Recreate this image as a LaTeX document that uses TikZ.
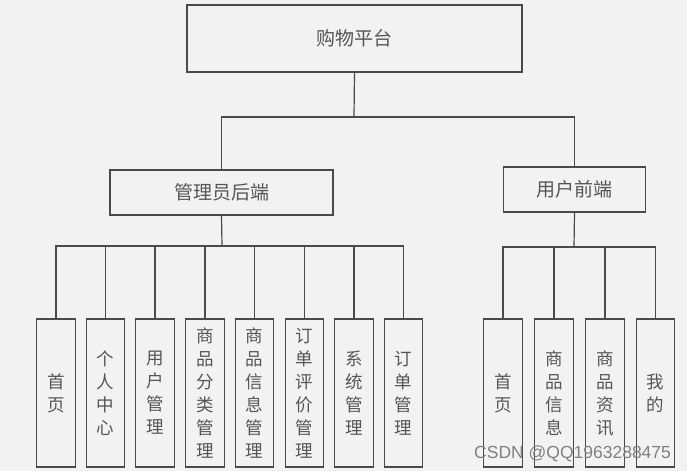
\documentclass[tikz,border=0pt]{standalone}
\usepackage{fontspec}
\newfontfamily\cjk{Noto Sans CJK SC}
\setmainfont{Liberation Sans}
\definecolor{bg}{HTML}{F2F2F2}
\definecolor{ln}{HTML}{4A4A4A}
\definecolor{tx}{HTML}{555555}
\begin{document}
\begin{tikzpicture}[x=1pt,y=-1pt,
  box/.style={draw=ln,line width=1.2pt,rectangle,inner sep=0pt,text=tx,align=center},
  head/.style={box,font=\cjk\fontsize{19}{23}\selectfont},
  leaf/.style={box,minimum width=38.5pt,minimum height=148pt,font=\cjk\fontsize{17.5}{23}\selectfont},
  conn/.style={draw=ln,line width=1.2pt}]
\fill[bg] (0,0) rectangle (687,471);
\useasboundingbox (0,0) rectangle (687,471);
\node[head,minimum width=335pt,minimum height=67pt] (top) at (354.5,38.5) {购物平台};
\node[head,minimum width=223pt,minimum height=45pt] (admin) at (221.5,192.5) {管理员后端};
\node[head,minimum width=142pt,minimum height=45pt] (user) at (574.5,189.5) {用户前端};
\coordinate (b1) at (354,117);
\coordinate (b2) at (222,246);
\coordinate (b3) at (574,247);
\node[leaf] (a1) at (56,393) {首\\页};
\node[leaf] (a2) at (105.5,393) {个\\人\\中\\心};
\node[leaf] (a3) at (155,393) {用\\户\\管\\理};
\node[leaf] (a4) at (205,393) {商\\品\\分\\类\\管\\理};
\node[leaf] (a5) at (254.5,393) {商\\品\\信\\息\\管\\理};
\node[leaf] (a6) at (304.5,393) {订\\单\\评\\价\\管\\理};
\node[leaf] (a7) at (354,393) {系\\统\\管\\理};
\node[leaf] (a8) at (403.5,393) {订\\单\\管\\理};
\node[leaf] (u1) at (503,393) {首\\页};
\node[leaf] (u2) at (554,393) {商\\品\\信\\息};
\node[leaf] (u3) at (605,393) {商\\品\\资\\讯};
\node[leaf] (u4) at (655.5,393) {我\\的};
\draw[conn] (top.south) -- (b1);
\draw[conn] (admin.north) -- (admin.north |- b1) -- (user.north |- b1) -- (user.north);
\draw[conn] (admin.south) -- (b2);
\draw[conn] (a1.north) -- (a1.north |- b2) -- (a8.north |- b2) -- (a8.north);
\foreach \n in {a2,a3,a4,a5,a6,a7} \draw[conn] (\n.north) -- (\n.north |- b2);
\draw[conn] (user.south) -- (b3);
\draw[conn] (u1.north) -- (u1.north |- b3) -- (u4.north |- b3) -- (u4.north);
\foreach \n in {u2,u3} \draw[conn] (\n.north) -- (\n.north |- b3);
\node[anchor=base west,inner sep=0pt,text=gray,font=\fontsize{17.5}{20}\selectfont] (wm) at (474,458) {CSDN @QQ1963288475};
\end{tikzpicture}
\end{document}
